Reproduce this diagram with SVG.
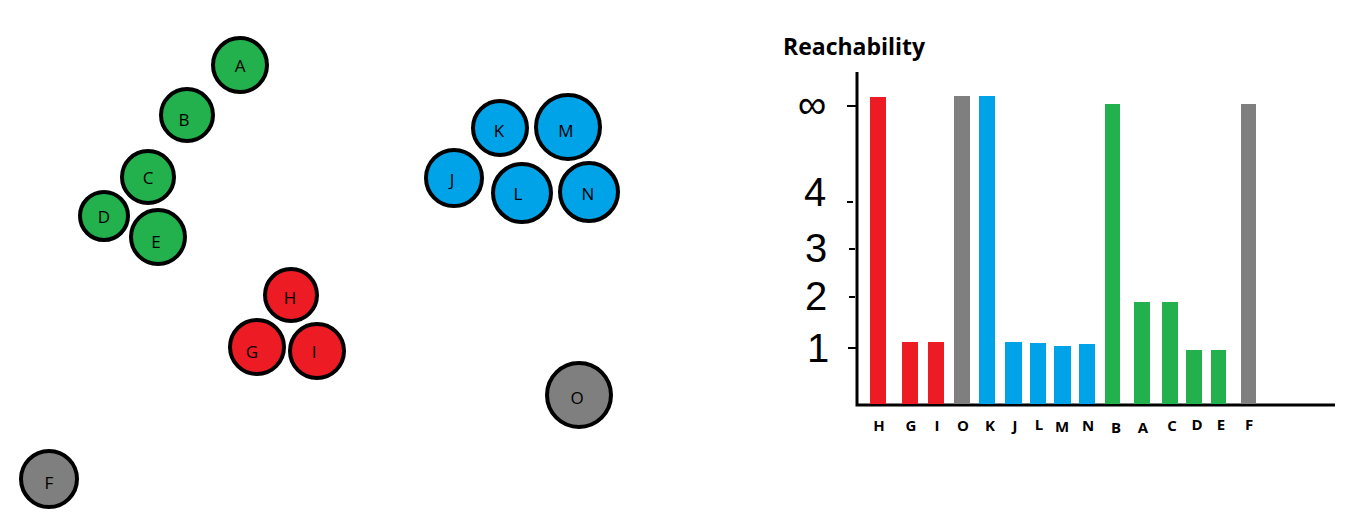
<svg xmlns="http://www.w3.org/2000/svg" width="1362" height="524" viewBox="0 0 1362 524">
<style>
.n{stroke:#000;stroke-width:4}
.g{fill:#22b14c}.b{fill:#00a2e8}.r{fill:#ed1c24}.y{fill:#7f7f7f}
.t{font-family:"Open Sans","Liberation Sans",sans-serif;font-size:17px;text-anchor:middle;dominant-baseline:central;fill:#000}
.x{font-family:"Open Sans","Liberation Sans",sans-serif;font-size:15px;font-weight:bold;text-anchor:middle;fill:#000}
.v{font-family:"Liberation Sans",sans-serif;font-size:40px;text-anchor:middle;fill:#000}
</style>
<rect width="1362" height="524" fill="#fff"/>
<g id="A"><circle class="n g" cx="240" cy="65" r="27"/><text class="t" x="240" y="65">A</text></g>
<g id="B"><circle class="n g" cx="187" cy="115" r="26"/><text class="t" x="184" y="119">B</text></g>
<g id="C"><circle class="n g" cx="148" cy="177" r="26"/><text class="t" x="148" y="177">C</text></g>
<g id="D"><circle class="n g" cx="104" cy="216" r="24"/><text class="t" x="104" y="216">D</text></g>
<g id="E"><circle class="n g" cx="158" cy="237" r="27"/><text class="t" x="156" y="241">E</text></g>
<g id="H"><circle class="n r" cx="291" cy="295" r="26"/><text class="t" x="290" y="297">H</text></g>
<g id="G"><circle class="n r" cx="257" cy="347" r="27"/><text class="t" x="252" y="351">G</text></g>
<g id="I"><circle class="n r" cx="317" cy="351" r="27"/><text class="t" x="314" y="351">I</text></g>
<g id="K"><circle class="n b" cx="500" cy="128" r="27"/><text class="t" x="499" y="130">K</text></g>
<g id="M"><circle class="n b" cx="568" cy="127" r="32"/><text class="t" x="566" y="130">M</text></g>
<g id="J"><circle class="n b" cx="454" cy="178" r="28"/><text class="t" x="452" y="179">J</text></g>
<g id="L"><circle class="n b" cx="522" cy="193" r="29"/><text class="t" x="518" y="193">L</text></g>
<g id="N"><circle class="n b" cx="589" cy="192" r="29"/><text class="t" x="588" y="193">N</text></g>
<g id="O"><circle class="n y" cx="579" cy="395" r="32"/><text class="t" x="577" y="397">O</text></g>
<g id="F"><circle class="n y" cx="49" cy="479" r="28"/><text class="t" x="49" y="482">F</text></g>
<g id="chart">
<text x="783" y="55" font-family="'Open Sans','Liberation Sans',sans-serif" font-size="23" font-weight="bold">Reachability</text>
<path d="M857 72V405H1335" fill="none" stroke="#000" stroke-width="3"/>
<path d="M847 106h10M847 202h6M849 249h6M849 297h6M848 348h9" stroke="#000" stroke-width="2"/>
<text class="v" x="812" y="118" font-size="44">∞</text>
<text class="v" x="815" y="206">4</text>
<text class="v" x="816" y="262">3</text>
<text class="v" x="816" y="310">2</text>
<text class="v" x="818" y="362">1</text>
<rect class="r" x="870" y="97" width="16" height="307"/>
<rect class="r" x="902" y="342" width="16" height="62"/>
<rect class="r" x="928" y="342" width="16" height="62"/>
<rect class="y" x="954" y="96" width="16" height="308"/>
<rect class="b" x="979" y="96" width="16" height="308"/>
<rect class="b" x="1005" y="342" width="17" height="62"/>
<rect class="b" x="1030" y="343" width="16" height="61"/>
<rect class="b" x="1054" y="346" width="17" height="58"/>
<rect class="b" x="1079" y="344" width="16" height="60"/>
<rect class="g" x="1105" y="104" width="15" height="300"/>
<rect class="g" x="1134" y="302" width="16" height="102"/>
<rect class="g" x="1162" y="302" width="16" height="102"/>
<rect class="g" x="1186" y="350" width="16" height="54"/>
<rect class="g" x="1211" y="350" width="15" height="54"/>
<rect class="y" x="1241" y="104" width="15" height="300"/>
<text class="x" x="879" y="431">H</text><text class="x" x="911" y="431">G</text><text class="x" x="937" y="431">I</text>
<text class="x" x="963" y="431">O</text><text class="x" x="990" y="431">K</text><text class="x" x="1015" y="431">J</text>
<text class="x" x="1039" y="430">L</text><text class="x" x="1062" y="432">M</text><text class="x" x="1088" y="431">N</text>
<text class="x" x="1116" y="433">B</text><text class="x" x="1143" y="433">A</text><text class="x" x="1172" y="431">C</text>
<text class="x" x="1197" y="430">D</text><text class="x" x="1221" y="430">E</text><text class="x" x="1249" y="430">F</text>
</g>
</svg>
